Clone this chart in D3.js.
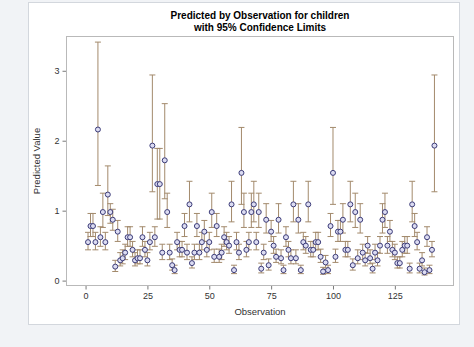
<!DOCTYPE html>
<html><head><meta charset="utf-8">
<script src="https://cdn.jsdelivr.net/npm/d3@7"></script>
<style>
html,body{margin:0;padding:0;background:#f1f3f6;}
svg{display:block;font-family:"Liberation Sans",Arial,sans-serif;}
</style></head>
<body>
<svg id="chart" width="474" height="347"></svg>
<script>
const titleLines = ["Predicted by Observation for children", "with 95% Confidence Limits"];
const xLabel = "Observation";
const yLabel = "Predicted Value";
const xTicks = [0, 25, 50, 75, 100, 125];
const yTicks = [0, 1, 2, 3];

const predicted = [
0.55,0.78,0.78,0.55,2.16,0.62,0.98,0.55,1.23,0.98,
0.87,0.20,0.70,0.29,0.32,0.40,0.62,0.62,0.44,0.29,
0.32,0.32,0.62,0.44,0.29,0.55,1.93,0.62,1.38,1.38,
0.40,1.72,0.98,0.40,0.22,0.15,0.55,0.44,0.44,0.78,
0.40,1.09,0.25,0.40,0.78,0.40,0.55,0.70,0.44,0.55,
0.98,0.34,0.78,0.34,0.40,0.62,0.55,0.50,1.09,0.15,
0.55,0.40,1.54,0.98,0.44,0.55,0.98,1.09,0.55,0.98,
0.17,0.40,0.87,0.22,0.70,0.50,0.34,0.87,0.32,0.15,
0.62,0.44,0.32,1.09,0.32,0.87,0.15,0.55,0.50,1.09,
0.44,0.44,0.55,0.55,0.34,0.13,0.26,0.15,0.78,1.54,
0.34,0.70,0.70,0.87,0.44,0.44,1.09,0.22,0.98,0.32,
0.87,0.40,0.29,0.50,0.32,0.17,0.40,0.29,0.50,0.87,
0.98,0.50,0.70,0.44,0.40,0.25,0.25,0.44,0.50,0.50,
0.17,1.09,0.78,0.55,0.17,0.29,0.12,0.62,0.15,0.44,
1.93];

const lowerCL = [
0.44,0.63,0.63,0.44,1.36,0.49,0.76,0.44,0.93,0.82,
0.72,0.13,0.56,0.21,0.24,0.30,0.49,0.49,0.34,0.21,
0.24,0.24,0.49,0.34,0.21,0.44,1.27,0.49,0.88,0.88,
0.30,1.17,0.76,0.30,0.15,0.10,0.44,0.34,0.34,0.63,
0.30,0.84,0.18,0.30,0.63,0.30,0.44,0.56,0.34,0.44,
0.76,0.26,0.63,0.26,0.30,0.49,0.44,0.39,0.84,0.10,
0.44,0.30,1.09,0.76,0.34,0.44,0.76,0.84,0.44,0.76,
0.11,0.30,0.68,0.15,0.56,0.39,0.26,0.68,0.24,0.10,
0.49,0.34,0.24,0.84,0.24,0.68,0.10,0.44,0.39,0.84,
0.34,0.34,0.44,0.44,0.26,0.09,0.18,0.10,0.63,1.09,
0.26,0.56,0.56,0.68,0.34,0.34,0.84,0.15,0.76,0.24,
0.68,0.30,0.21,0.39,0.24,0.11,0.30,0.21,0.39,0.68,
0.76,0.39,0.56,0.34,0.30,0.18,0.18,0.34,0.39,0.39,
0.11,0.84,0.63,0.44,0.11,0.21,0.08,0.49,0.10,0.34,
1.27];

const upperCL = [
0.69,0.96,0.96,0.69,3.41,0.77,1.25,0.69,1.64,1.10,
1.02,0.29,0.86,0.40,0.44,0.52,0.77,0.77,0.56,0.40,
0.44,0.44,0.77,0.56,0.40,0.69,2.94,0.77,1.89,1.89,
0.52,2.53,1.25,0.52,0.31,0.22,0.69,0.56,0.56,0.96,
0.52,1.42,0.34,0.52,0.96,0.52,0.69,0.86,0.56,0.69,
1.25,0.45,0.96,0.45,0.52,0.77,0.69,0.63,1.42,0.22,
0.69,0.52,2.19,1.25,0.56,0.69,1.25,1.42,0.69,1.25,
0.25,0.52,1.10,0.31,0.86,0.63,0.45,1.10,0.44,0.22,
0.77,0.56,0.44,1.42,0.44,1.10,0.22,0.69,0.63,1.42,
0.56,0.56,0.69,0.69,0.45,0.19,0.36,0.22,0.96,2.19,
0.45,0.86,0.86,1.10,0.56,0.56,1.42,0.31,1.25,0.44,
1.10,0.52,0.40,0.63,0.44,0.25,0.52,0.40,0.63,1.10,
1.25,0.63,0.86,0.56,0.52,0.34,0.34,0.56,0.63,0.63,
0.25,1.42,0.96,0.69,0.25,0.40,0.18,0.77,0.22,0.56,
2.94];

const data = predicted.map((p, i) => ({obs: i + 1, pred: p, lo: lowerCL[i], hi: upperCL[i]}));

const svg = d3.select("#chart");
// outer panel
svg.append("rect").attr("x", 28.5).attr("y", 2.5).attr("width", 431).attr("height", 322)
  .attr("fill", "#ffffff").attr("stroke", "#d3d7dd");

const plot = {left: 66.5, top: 36.5, right: 453.5, bottom: 285.5};
const x = d3.scaleLinear().domain([-7.7, 148.7]).range([plot.left, plot.right]);
const y = d3.scaleLinear().domain([-0.07, 3.49]).range([plot.bottom, plot.top]);

// title
svg.append("g").selectAll("text").data(titleLines).join("text")
  .attr("x", (plot.left + plot.right) / 2).attr("y", (d, i) => 19 + i * 12)
  .attr("text-anchor", "middle").attr("font-size", 10).attr("font-weight", "bold")
  .attr("fill", "#000").text(d => d);

// axes
const xAxis = svg.append("g").attr("transform", `translate(0,${plot.bottom})`)
  .call(d3.axisBottom(x).tickValues(xTicks).tickFormat(d3.format("d")).tickSize(4).tickPadding(3));
const yAxis = svg.append("g").attr("transform", `translate(${plot.left},0)`)
  .call(d3.axisLeft(y).tickValues(yTicks).tickFormat(d3.format("d")).tickSize(4).tickPadding(3));
[xAxis, yAxis].forEach(g => {
  g.select(".domain").remove();
  g.selectAll(".tick line").attr("stroke", "#7a7a7a");
  g.selectAll(".tick text").attr("fill", "#333").attr("font-size", 9)
    .attr("font-family", "'Liberation Sans',Arial,sans-serif");
});

// frame
svg.append("rect").attr("x", plot.left).attr("y", plot.top)
  .attr("width", plot.right - plot.left).attr("height", plot.bottom - plot.top)
  .attr("fill", "none").attr("stroke", "#b9b9b9");

// axis labels
svg.append("text").attr("x", (plot.left + plot.right) / 2).attr("y", 315)
  .attr("text-anchor", "middle").attr("font-size", 9.5).attr("fill", "#333").text(xLabel);
svg.append("text").attr("transform", `translate(40,${(plot.top + plot.bottom) / 2}) rotate(-90)`)
  .attr("text-anchor", "middle").attr("font-size", 9.5).attr("fill", "#333").text(yLabel);

// error bars
const barColor = "#a38a6c";
const g = svg.append("g");
g.selectAll("line.whisker").data(data).join("line").attr("class", "whisker")
  .attr("x1", d => x(d.obs)).attr("x2", d => x(d.obs))
  .attr("y1", d => y(d.lo)).attr("y2", d => y(d.hi))
  .attr("stroke", barColor).attr("stroke-width", 1);
g.selectAll("line.capHi").data(data).join("line").attr("class", "capHi")
  .attr("x1", d => x(d.obs) - 3).attr("x2", d => x(d.obs) + 3)
  .attr("y1", d => y(d.hi)).attr("y2", d => y(d.hi))
  .attr("stroke", barColor).attr("stroke-width", 1);
g.selectAll("line.capLo").data(data).join("line").attr("class", "capLo")
  .attr("x1", d => x(d.obs) - 3).attr("x2", d => x(d.obs) + 3)
  .attr("y1", d => y(d.lo)).attr("y2", d => y(d.lo))
  .attr("stroke", barColor).attr("stroke-width", 1);

// markers
g.selectAll("circle").data(data).join("circle")
  .attr("cx", d => x(d.obs)).attr("cy", d => y(d.pred)).attr("r", 2.5)
  .attr("fill", "#dcdcf2").attr("stroke", "#3b3b78").attr("stroke-width", 1);
</script>
</body></html>
